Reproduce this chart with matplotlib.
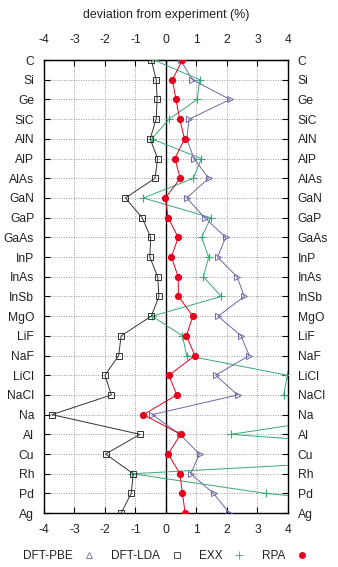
import matplotlib
matplotlib.use('Agg')
import matplotlib.pyplot as plt
from matplotlib.lines import Line2D

plt.rcParams['font.family'] = ['Liberation Sans', 'DejaVu Sans']
plt.rcParams['axes.unicode_minus'] = False

# Solids, top to bottom
solids = ['C', 'Si', 'Ge', 'SiC', 'AlN', 'AlP', 'AlAs', 'GaN', 'GaP', 'GaAs', 'InP',
          'InAs', 'InSb', 'MgO', 'LiF', 'NaF', 'LiCl', 'NaCl', 'Na', 'Al', 'Cu', 'Rh',
          'Pd', 'Ag']

# Deviation from experiment (%) for each method
dft_pbe = [0.48, 0.87, 2.10, 0.76, 0.68, 0.92, 1.40, 0.68, 1.27, 1.96, 1.69,
           2.33, 2.57, 1.71, 2.46, 2.73, 1.63, 2.35, -0.45, 0.46, 1.10, 0.81,
           1.56, 2.08]
dft_lda = [-0.48, -0.32, -0.29, -0.32, -0.52, -0.27, -0.36, -1.33, -0.78, -0.50,
           -0.53, -0.27, -0.23, -0.48, -1.47, -1.55, -2.00, -1.79, -3.74, -0.85,
           -1.98, -1.07, -1.14, -1.47]
exx = [-0.39, 1.11, 1.02, 0.10, -0.47, 1.16, 0.90, -0.74, 1.47, 1.17, 1.40,
       1.23, 1.81, -0.45, 0.54, 0.68, 3.98, 3.86, 6.4, 2.13, 10.8, -1.10,
       3.28, 10.0]
rpa = [0.54, 0.21, 0.33, 0.45, 0.61, 0.29, 0.47, -0.02, 0.07, 0.40, 0.18,
       0.40, 0.41, 0.88, 0.67, 0.95, 0.10, 0.35, -0.74, 0.48, 0.07, 0.46,
       0.54, 0.63]

c_pbe = '#6e68a8'
c_lda = '#333333'
c_exx = '#3aa874'
c_rpa = '#e6001e'
c_txt = '#222222'

fig = plt.figure(figsize=(3.38, 5.67), dpi=100)
ax = fig.add_axes([0.130, 0.095, 0.722, 0.799])

y = list(range(len(solids)))

ax.plot(exx, y, color=c_exx, lw=0.7, marker='+', ms=6, mew=0.8, zorder=3)
ax.plot(dft_pbe, y, color=c_pbe, lw=0.7, marker='>', ms=5, mew=0.7,
        mfc='none', mec=c_pbe, zorder=4)
ax.plot(dft_lda, y, color=c_lda, lw=0.7, marker='s', ms=5, mew=0.7,
        mfc='none', mec=c_lda, zorder=4)
ax.plot(rpa, y, color=c_rpa, lw=0.7, marker='o', ms=5.2, mew=0,
        mfc=c_rpa, zorder=5)

ax.axvline(0, color='black', lw=1.0, zorder=2)

ax.set_xlim(-4, 4)
ax.set_ylim(len(solids) - 1, 0)
ax.set_xticks(range(-4, 5))
ax.set_yticks(y)
ax.set_yticklabels(solids)
ax.grid(True, color='#9a9a9a', ls=(0, (1, 1.5)), lw=0.7)
ax.set_axisbelow(True)

ax.tick_params(axis='both', direction='in', labelsize=8.7, length=4, width=0.8,
               top=True, right=True, labeltop=False, labelright=True,
               labelcolor=c_txt)
ax.tick_params(axis='y', pad=7)
ax.tick_params(axis='x', pad=8)
for s in ax.spines.values():
    s.set_linewidth(1.0)

# top axis carries its own tick labels and the axis title
top = ax.secondary_xaxis('top')
top.set_xticks(range(-4, 5))
top.tick_params(direction='in', length=0, labelsize=8.7, pad=10.5,
                labelcolor=c_txt)
top.set_xlabel('deviation from experiment (%)', fontsize=8.9, labelpad=11.5,
               color=c_txt)

handles = [
    Line2D([], [], ls='none', marker='^', ms=4.5, mfc='none', mec=c_pbe, mew=0.6),
    Line2D([], [], ls='none', marker='s', ms=4.5, mfc='none', mec=c_lda, mew=0.6),
    Line2D([], [], ls='none', marker='+', ms=5.5, color=c_exx, mew=0.6),
    Line2D([], [], ls='none', marker='o', ms=5, mfc=c_rpa, mec=c_rpa, mew=0),
]
fig.legend(handles, ['DFT-PBE', 'DFT-LDA', 'EXX', 'RPA'], loc='lower center',
           bbox_to_anchor=(0.49, -0.01), ncol=4, frameon=False, markerfirst=False,
           fontsize=8.5, handlelength=1.2, handletextpad=0.8, columnspacing=1.3,
           labelcolor=c_txt)

fig.savefig('out.png', dpi=100)
